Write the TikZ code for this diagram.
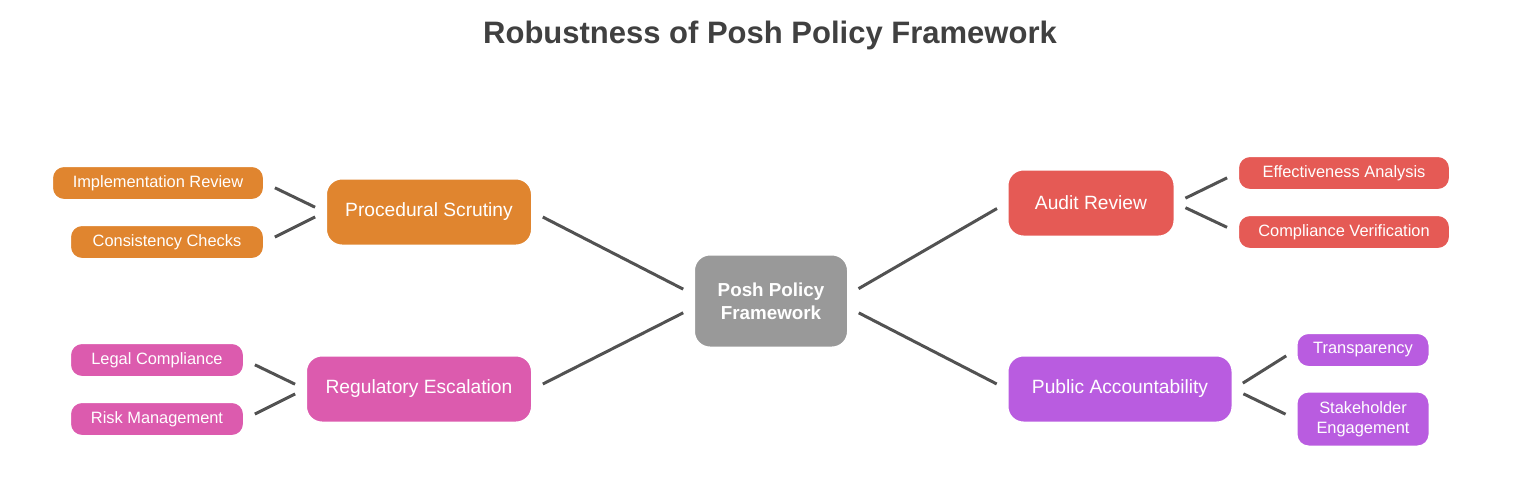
\documentclass[tikz,border=0pt]{standalone}
\usepackage{fontspec}
\setmainfont{Liberation Sans}
\begin{document}
\begin{tikzpicture}[x=0.5pt,y=-0.5pt,
 box/.style={rounded corners=8pt,text=white,align=center,inner sep=0pt,draw=white,line width=1pt},
 main/.style={box,font=\fontsize{9.6}{11}\selectfont,minimum height=33.5pt},
 sub/.style={box,font=\fontsize{8.2}{9.8}\selectfont,minimum height=17pt,rounded corners=6pt},
 ln/.style={draw=black!68,line width=1.5pt,shorten <=5.5pt,shorten >=5.5pt}]
\definecolor{cg}{HTML}{999999}
\definecolor{co}{HTML}{E0852F}
\definecolor{cp}{HTML}{DC5BAE}
\definecolor{cr}{HTML}{E55A55}
\definecolor{cv}{HTML}{B95CE0}
\useasboundingbox (0,0) rectangle (1536,500);
\node[font=\fontsize{15.5}{18}\selectfont\bfseries,text=black!75] (t) at (770,35) {Robustness of Posh Policy Framework};
\node[main,fill=cg,minimum width=77pt,minimum height=46.5pt,font=\fontsize{9.4}{11.5}\selectfont\bfseries] (c) at (771,301) {Posh Policy\\Framework};
\node[main,fill=co,minimum width=103pt] (ps) at (429,212) {Procedural Scrutiny};
\node[sub,fill=co,minimum width=106pt] (ir) at (158,183) {Implementation Review};
\node[sub,fill=co,minimum width=97pt] (cc) at (167,242) {Consistency Checks};
\node[main,fill=cp,minimum width=113pt] (re) at (419,389) {Regulatory Escalation};
\node[sub,fill=cp,minimum width=87pt] (lc) at (157,360) {Legal Compliance};
\node[sub,fill=cp,minimum width=87pt] (rm) at (157,419) {Risk Management};
\node[main,fill=cr,minimum width=83.5pt] (ar) at (1091,203) {Audit Review};
\node[sub,fill=cr,minimum width=106pt] (ea) at (1344,173) {Effectiveness Analysis};
\node[sub,fill=cr,minimum width=106pt] (cv) at (1344,232) {Compliance Verification};
\node[main,fill=cv,minimum width=112.5pt] (pa) at (1120,389) {Public Accountability};
\node[sub,fill=cv,minimum width=66.5pt] (tr) at (1363,350) {Transparency};
\node[sub,fill=cv,minimum width=66.5pt,minimum height=27.5pt] (se) at (1363,419) {Stakeholder\\Engagement};
\draw[ln] (c.175) -- (ps.east);
\draw[ln] (c.185) -- (re.east);
\draw[ln] (c.5) -- (ar.west);
\draw[ln] (c.355) -- (pa.west);
\draw[ln] (ir.east) -- (ps.west);
\draw[ln] (cc.east) -- (ps.west);
\draw[ln] (lc.east) -- (re.west);
\draw[ln] (rm.east) -- (re.west);
\draw[ln] (ar.east) -- (ea.west);
\draw[ln] (ar.east) -- (cv.west);
\draw[ln] (pa.east) -- (tr.west);
\draw[ln] (pa.east) -- (se.west);
\end{tikzpicture}
\end{document}
